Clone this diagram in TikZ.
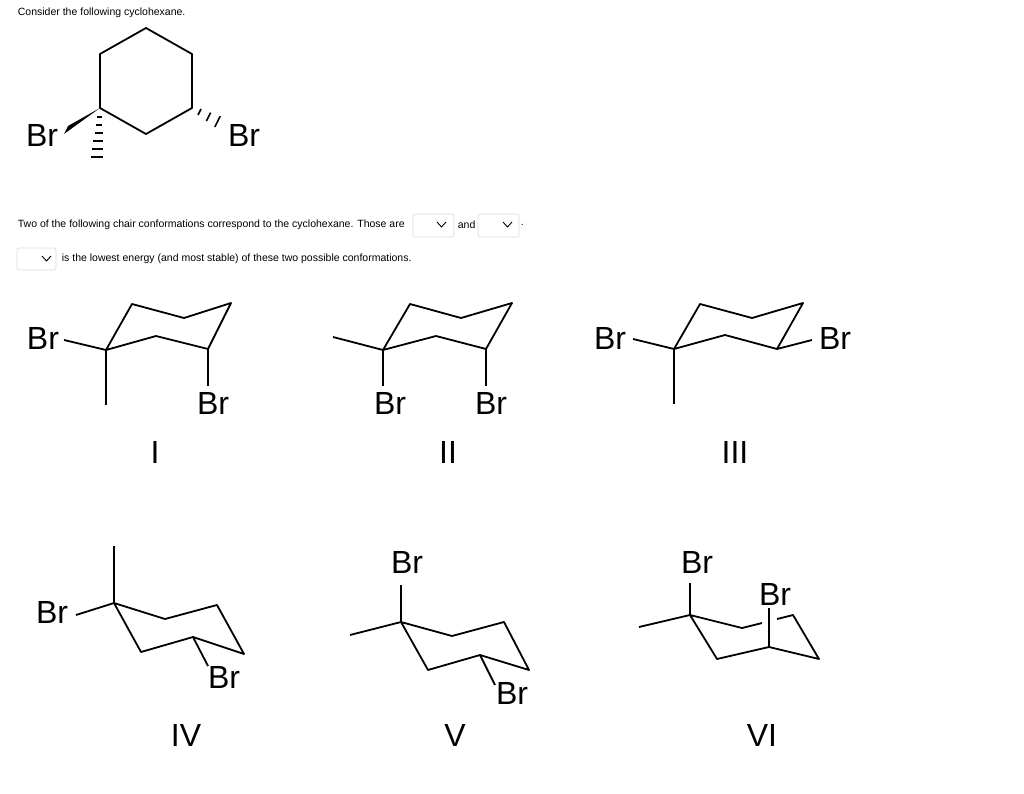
\documentclass[tikz,border=0pt]{standalone}
\usepackage{fontspec}
\setmainfont{Liberation Sans}
\usetikzlibrary{calc}
\begin{document}
\begin{tikzpicture}[x=1pt,y=-1pt,line width=1.8pt,line join=round,
  big/.style={font=\fontsize{32}{36}\selectfont,inner sep=0pt},
  small/.style={font=\fontsize{10.5}{12}\selectfont,inner sep=0pt,anchor=west},
  ddbox/.style={draw=black!15,line width=0.6pt,rounded corners=2pt},
  chev/.style={line width=0.9pt}]
\useasboundingbox (0,0) rectangle (1024,794);
% texts
\node[small] (t1) at (17,13) {Consider the following cyclohexane.};
\node[small] (t2) at (17,225) {Two of the following chair conformations correspond to the cyclohexane. Those are};
\draw[ddbox] (413,214) rectangle (454,237);
\draw[chev] (437,222) -- (441.5,227) -- (446,222);
\node[small] (t3) at (457,225) {and};
\draw[ddbox] (478,214) rectangle (519,237);
\draw[chev] (503,222) -- (507.5,227) -- (512,222);
\node[small] (t4) at (520,225) {.};
\draw[ddbox] (17,248) rectangle (56,270);
\draw[chev] (42,256) -- (46.5,261) -- (51,256);
\node[small] (t5) at (61,259) {is the lowest energy (and most stable) of these two possible conformations.};
% top molecule
\coordinate (a1) at (146,28); \coordinate (a2) at (192,54); \coordinate (a3) at (192,108);
\coordinate (a4) at (146,134); \coordinate (a5) at (100,108); \coordinate (a6) at (100,54);
\draw (a1)--(a2)--(a3)--(a4)--(a5)--(a6)--cycle;
\node[big] (br0) at (42,135) {Br};
\node[big] (br1) at (244,135) {Br};
\fill (a5) -- (68,126) -- (64,134) -- cycle;
\foreach \t in {0.18,0.34,0.5,0.66,0.82,0.98}{
  \draw[line width=1.6pt] ($(a5)!\t!(89,158)$) ++(-{2+4*\t},0) -- ++({4+8*\t},0);}
\foreach \t in {0.25,0.55,0.85}{
  \draw[line width=1.6pt] ($(a3)!\t!(222,124)$) ++({1+2*\t},{-2-4*\t}) -- ++({-2-4*\t},{4+8*\t});}
% Chair I
\draw (106,350)--(132,304)--(184,318)--(231,303)--(208,349)--(156,336)--cycle;
\draw (106,350)--(64,340); \draw (106,350)--(106,405); \draw (208,349)--(208,386);
\node[big] (bI1) at (43,338) {Br}; \node[big] (bI2) at (213,403) {Br};
\node[big] (lI) at (155,452) {I};
% Chair II
\draw (383,350)--(410,304)--(461,318)--(512,303)--(486,349)--(436,336)--cycle;
\draw (383,350)--(333,337); \draw (383,350)--(383,386); \draw (486,349)--(486,386);
\node[big] (bII1) at (390,403) {Br}; \node[big] (bII2) at (491,403) {Br};
\node[big] (lII) at (448,452) {II};
% Chair III
\draw (674,349)--(700,304)--(752,318)--(803,303)--(777,349)--(725,335)--cycle;
\draw (674,349)--(633,339); \draw (777,349)--(812,340); \draw (674,349)--(674,404);
\node[big] (bIII1) at (610,338) {Br}; \node[big] (bIII2) at (835,338) {Br};
\node[big] (lIII) at (735,452) {III};
% Chair IV
\draw (114,603)--(165,619)--(217,605)--(244,654)--(193,637)--(141,652)--cycle;
\draw (114,603)--(114,546); \draw (114,603)--(76,615); \draw (193,637)--(208,666);
\node[big] (bIV1) at (52,612) {Br}; \node[big] (bIV2) at (224,677) {Br};
\node[big] (lIV) at (186,735) {IV};
% Chair V
\draw (401,622)--(452,636)--(504,622)--(529,670)--(480,655)--(428,670)--cycle;
\draw (401,622)--(401,585); \draw (401,622)--(350,635); \draw (480,655)--(495,685);
\node[big] (bV1) at (407,562) {Br}; \node[big] (bV2) at (512,693) {Br};
\node[big] (lV) at (455,735) {V};
% Chair VI
\draw (742,628)--(690,615)--(717,659)--(769,647)--(819,659)--(793,615)--(777,619);
\draw (742,628)--(762,623);
\draw (690,615)--(690,583); \draw (690,615)--(639,627); \draw (769,647)--(769,608);
\node[big] (bVI1) at (697,562) {Br}; \node[big] (bVI2) at (775,594) {Br};
\node[big] (lVI) at (762,735) {VI};
\end{tikzpicture}
\end{document}
